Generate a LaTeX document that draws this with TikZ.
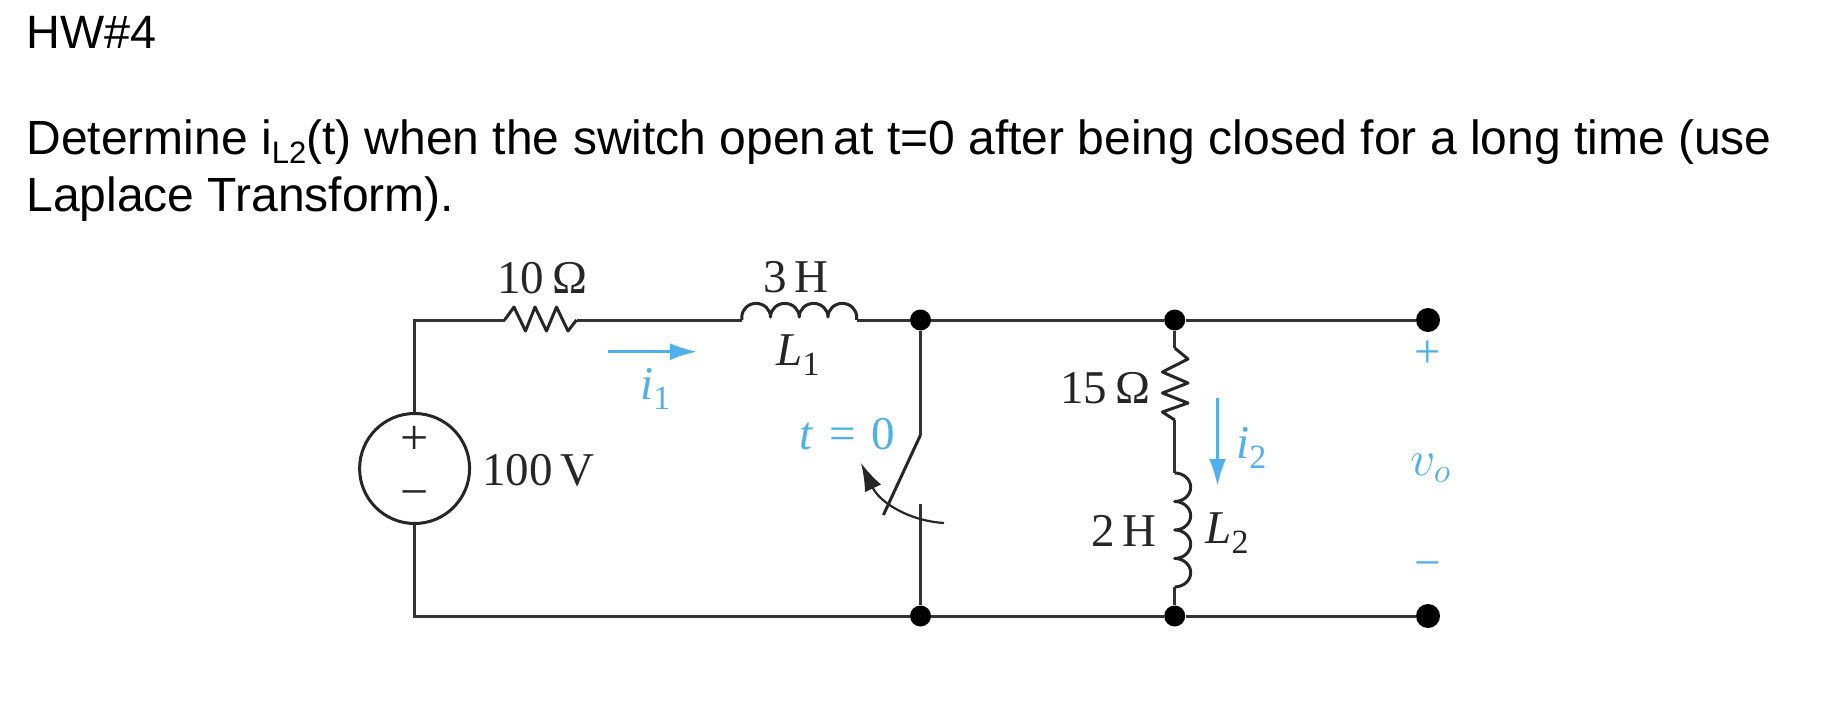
\documentclass[tikz,border=0pt]{standalone}
\usepackage{fontspec}
\usepackage{xcolor}
\usepackage{tikz}
\usetikzlibrary{arrows.meta}
\setmainfont{Liberation Sans}
\newfontfamily\ckfont{Liberation Serif}
\definecolor{wirecol}{HTML}{333333}
\definecolor{bluecol}{HTML}{4FB0EC}
\tikzset{
    wire/.style={draw=wirecol, line width=1.5pt},
    part/.style={draw=black!85, line width=1.5pt, line join=round},
    txt/.style={anchor=base west, inner sep=0pt, font=\fontsize{24}{28}\selectfont},
    lab/.style={anchor=base west, inner sep=0pt, text=black!85, font=\ckfont\fontsize{23.5}{27}\selectfont},
    bluelab/.style={lab, text=bluecol},
    dot/.style={circle, fill=black, inner sep=0pt, minimum size=10.5pt},
    term/.style={circle, fill=black, inner sep=0pt, minimum size=12pt},
    bluearrow/.style={draw=bluecol, line width=1.4pt, -{Latex[length=13.5pt,width=8.5pt]}},
}
\newcommand{\smallsub}[1]{\raisebox{-5pt}{\fontsize{17}{17}\selectfont\upshape #1}}
\begin{document}
\begin{tikzpicture}[x=0.5pt,y=-0.5pt]
    \useasboundingbox (0,0) rectangle (1844,728);

    \node[txt, font=\fontsize{23.4}{28}\selectfont] at (26,48) (title) {HW\#4};
    \node[txt] at (26,154) (lineA) {Determine i\raisebox{-4.5pt}{\fontsize{15.5}{15.5}\selectfont L2}(t) when the switch open\kern-3pt{} at t=0 after being closed for a long time (use};
    \node[txt] at (26,211) (lineB) {Laplace Transform).};

    \node[circle, draw=black!85, line width=1.5pt, inner sep=0pt, minimum size=55pt] at (414.6,468.5) (VS) {};
    \node[anchor=center, inner sep=0pt, text=black!85, font=\ckfont\fontsize{25}{27}\selectfont] at (414.6,440) (VSp) {+};
    \node[anchor=center, inner sep=0pt, text=black!85, font=\ckfont\fontsize{25}{27}\selectfont] at (414.6,500) (VSm) {−};

    \node[dot] at (920.5,320) (A) {};
    \node[dot] at (1174.7,320) (B) {};
    \node[term] at (1428,320) (C) {};
    \node[dot] at (920.5,616) (D) {};
    \node[dot] at (1174.7,616) (E) {};
    \node[term] at (1428,616) (F) {};

    \coordinate (TL) at (414.6,320);
    \coordinate (BL) at (414.6,616);
    \coordinate (Ra) at (504.6,320);
    \coordinate (Rb) at (576.5,320);
    \coordinate (La) at (741.8,320);
    \coordinate (Lb) at (856.6,320);
    \coordinate (Sa) at (920.5,435);
    \coordinate (Sb) at (883.4,515);
    \coordinate (Sc) at (920.5,504);
    \coordinate (Rc) at (1174.7,348);
    \coordinate (Rd) at (1174.7,420);
    \coordinate (Lc) at (1174.7,473);
    \coordinate (Ld) at (1174.7,587);

    \draw[wire] (VS) -- (TL) -- (Ra);
    \draw[wire] (Rb) -- (La);
    \draw[wire] (Lb) -- (A);
    \draw[wire] (A) -- (B);
    \draw[wire] (B) -- (C);
    \draw[wire] (VS) -- (BL) -- (D);
    \draw[wire] (D) -- (E);
    \draw[wire] (E) -- (F);
    \draw[wire] (A) -- (Sa);
    \draw[wire] (D) -- (Sc);
    \draw[wire] (B) -- (Rc);
    \draw[wire] (Rd) -- (Lc);
    \draw[wire] (Ld) -- (E);

    \draw[part] (Ra) -- (514,307) -- (525.5,331) -- (535,307) -- (546.5,331) -- (556.5,307) -- (568,331) -- (Rb);
    \draw[part] (La) -- ++(0,-3) arc (180:0:7.18pt and 6.8pt) arc (180:0:7.18pt and 6.8pt) arc (180:0:7.18pt and 6.8pt) arc (180:0:7.18pt and 6.8pt) -- (Lb);
    \draw[part] (Rc) -- (1188,359) -- (1162.4,372) -- (1188,383) -- (1162.4,393) -- (1188,403) -- (1162.4,412) -- (Rd);
    \draw[part] (Lc) arc (90:-90:8pt and 7.12pt) arc (90:-90:8pt and 7.12pt) arc (90:-90:8pt and 7.12pt) arc (90:-90:8pt and 7.12pt);

    \draw[part] (Sa) -- (Sb);
    \coordinate (Aa) at (944,523);
    \coordinate (Ab) at (861,463);
    \draw[part, line width=1.1pt, -{Latex[length=14pt,width=9pt]}] (Aa) .. controls (910,521) and (880,503) .. (Ab);

    \coordinate (Ia) at (608,351.7);
    \coordinate (Ib) at (697,351.7);
    \coordinate (Ic) at (1217.5,398);
    \coordinate (Id) at (1217.5,486);
    \draw[bluearrow] (Ia) -- (Ib);
    \draw[bluearrow] (Ic) -- (Id);

    \node[lab] at (497,293) (labR) {10\,Ω};
    \node[lab] at (763,292) (labL) {3\,H};
    \node[lab] at (776,365) (nameL) {\textit{L}\smallsub{1}};
    \node[lab] at (481.6,485) (labV) {100\,V};
    \node[lab] at (1060,403) (labRb) {15\,Ω};
    \node[lab] at (1091,546) (labLb) {2\,H};
    \node[lab] at (1205,543) (nameLb) {\textit{L}\smallsub{2}};

    \node[bluelab] at (640,399) (labIa) {\textit{i}\smallsub{1}};
    \node[bluelab] at (799,449) (labT) {\textit{t}\kern2pt{} = \kern2pt{}0};
    \node[bluelab] at (1236,458) (labIb) {\textit{i}\smallsub{2}};
    \node[bluelab] at (1410,475) (labVo) {\(v_o\)};
    \node[bluelab, anchor=center] at (1428,354) (labP) {+};
    \node[bluelab, anchor=center] at (1428,570) (labM) {−};
\end{tikzpicture}
\end{document}
